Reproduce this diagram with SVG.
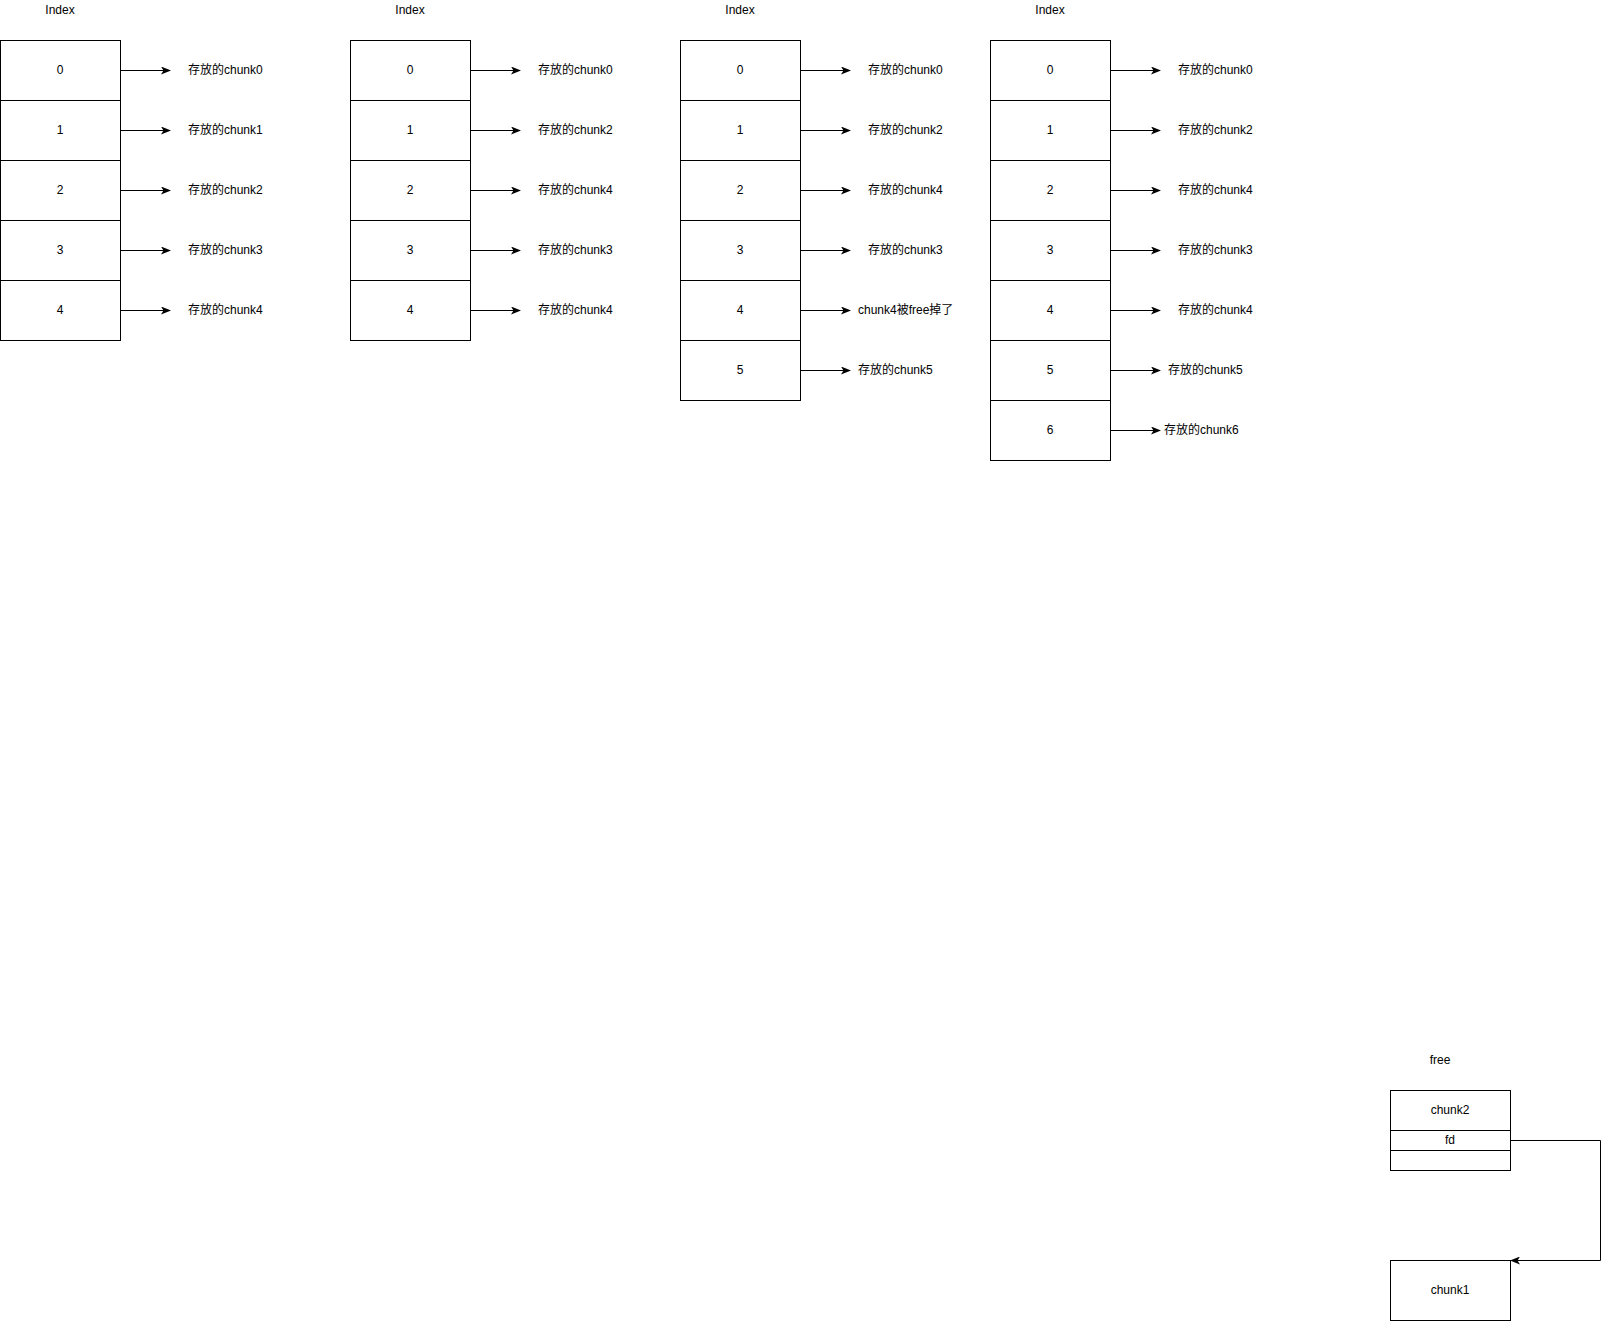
<svg xmlns="http://www.w3.org/2000/svg" width="1609" height="1321" viewBox="0 0 1609 1321">
<style>
.bg{fill:#ffffff}
.box{fill:#ffffff;stroke:#000000;stroke-width:1}
.t{font-family:"Liberation Sans","Noto Sans CJK SC",sans-serif;font-size:12px;fill:#000000;text-anchor:middle}
.tl{font-family:"Liberation Sans","Noto Sans CJK SC",sans-serif;font-size:12px;fill:#000000;text-anchor:start}
.edge{fill:none;stroke:#000000;stroke-width:1}
</style>
<defs>
<marker id="arr" viewBox="0 0 10 8" refX="9" refY="4" markerWidth="10" markerHeight="8" markerUnits="userSpaceOnUse" orient="auto">
<path d="M0,0 L10,4 L0,8 L2.5,4 z" fill="#000000"/>
</marker>
</defs>
<rect class="bg" x="0" y="0" width="1609" height="1321"/>

<g id="table1">
<text class="t" x="60" y="14">Index</text>
<rect class="box" x="0.5" y="40.5" width="120" height="60"/>
<rect class="box" x="0.5" y="100.5" width="120" height="60"/>
<rect class="box" x="0.5" y="160.5" width="120" height="60"/>
<rect class="box" x="0.5" y="220.5" width="120" height="60"/>
<rect class="box" x="0.5" y="280.5" width="120" height="60"/>
<text class="t" x="60" y="74">0</text>
<text class="t" x="60" y="134">1</text>
<text class="t" x="60" y="194">2</text>
<text class="t" x="60" y="254">3</text>
<text class="t" x="60" y="314">4</text>
<text class="tl" x="188" y="74">存放的chunk0</text>
<text class="tl" x="188" y="134">存放的chunk1</text>
<text class="tl" x="188" y="194">存放的chunk2</text>
<text class="tl" x="188" y="254">存放的chunk3</text>
<text class="tl" x="188" y="314">存放的chunk4</text>
</g>

<g id="table2">
<text class="t" x="410" y="14">Index</text>
<rect class="box" x="350.5" y="40.5" width="120" height="60"/>
<rect class="box" x="350.5" y="100.5" width="120" height="60"/>
<rect class="box" x="350.5" y="160.5" width="120" height="60"/>
<rect class="box" x="350.5" y="220.5" width="120" height="60"/>
<rect class="box" x="350.5" y="280.5" width="120" height="60"/>
<text class="t" x="410" y="74">0</text>
<text class="t" x="410" y="134">1</text>
<text class="t" x="410" y="194">2</text>
<text class="t" x="410" y="254">3</text>
<text class="t" x="410" y="314">4</text>
<text class="tl" x="538" y="74">存放的chunk0</text>
<text class="tl" x="538" y="134">存放的chunk2</text>
<text class="tl" x="538" y="194">存放的chunk4</text>
<text class="tl" x="538" y="254">存放的chunk3</text>
<text class="tl" x="538" y="314">存放的chunk4</text>
</g>

<g id="table3">
<text class="t" x="740" y="14">Index</text>
<rect class="box" x="680.5" y="40.5" width="120" height="60"/>
<rect class="box" x="680.5" y="100.5" width="120" height="60"/>
<rect class="box" x="680.5" y="160.5" width="120" height="60"/>
<rect class="box" x="680.5" y="220.5" width="120" height="60"/>
<rect class="box" x="680.5" y="280.5" width="120" height="60"/>
<rect class="box" x="680.5" y="340.5" width="120" height="60"/>
<text class="t" x="740" y="74">0</text>
<text class="t" x="740" y="134">1</text>
<text class="t" x="740" y="194">2</text>
<text class="t" x="740" y="254">3</text>
<text class="t" x="740" y="314">4</text>
<text class="t" x="740" y="374">5</text>
<text class="tl" x="868" y="74">存放的chunk0</text>
<text class="tl" x="868" y="134">存放的chunk2</text>
<text class="tl" x="868" y="194">存放的chunk4</text>
<text class="tl" x="868" y="254">存放的chunk3</text>
<text class="tl" x="858" y="314">chunk4被free掉了</text>
<text class="tl" x="858" y="374">存放的chunk5</text>
</g>

<g id="table4">
<text class="t" x="1050" y="14">Index</text>
<rect class="box" x="990.5" y="40.5" width="120" height="60"/>
<rect class="box" x="990.5" y="100.5" width="120" height="60"/>
<rect class="box" x="990.5" y="160.5" width="120" height="60"/>
<rect class="box" x="990.5" y="220.5" width="120" height="60"/>
<rect class="box" x="990.5" y="280.5" width="120" height="60"/>
<rect class="box" x="990.5" y="340.5" width="120" height="60"/>
<rect class="box" x="990.5" y="400.5" width="120" height="60"/>
<text class="t" x="1050" y="74">0</text>
<text class="t" x="1050" y="134">1</text>
<text class="t" x="1050" y="194">2</text>
<text class="t" x="1050" y="254">3</text>
<text class="t" x="1050" y="314">4</text>
<text class="t" x="1050" y="374">5</text>
<text class="t" x="1050" y="434">6</text>
<text class="tl" x="1178" y="74">存放的chunk0</text>
<text class="tl" x="1178" y="134">存放的chunk2</text>
<text class="tl" x="1178" y="194">存放的chunk4</text>
<text class="tl" x="1178" y="254">存放的chunk3</text>
<text class="tl" x="1178" y="314">存放的chunk4</text>
<text class="tl" x="1168" y="374">存放的chunk5</text>
<text class="tl" x="1164" y="434">存放的chunk6</text>
</g>

<g id="free-label">
<text class="t" x="1440" y="1064">free</text>
</g>

<g id="chunk2">
<rect class="box" x="1390.5" y="1090.5" width="120" height="40"/>
<rect class="box" x="1390.5" y="1130.5" width="120" height="20"/>
<rect class="box" x="1390.5" y="1150.5" width="120" height="20"/>
<text class="t" x="1450" y="1114">chunk2</text>
<text class="t" x="1450" y="1144">fd</text>
</g>

<g id="chunk1">
<rect class="box" x="1390.5" y="1260.5" width="120" height="60"/>
<text class="t" x="1450" y="1294">chunk1</text>
</g>

<g id="connectors">
<path class="edge" marker-end="url(#arr)" d="M120.5,70.5 H170"/>
<path class="edge" marker-end="url(#arr)" d="M120.5,130.5 H170"/>
<path class="edge" marker-end="url(#arr)" d="M120.5,190.5 H170"/>
<path class="edge" marker-end="url(#arr)" d="M120.5,250.5 H170"/>
<path class="edge" marker-end="url(#arr)" d="M120.5,310.5 H170"/>

<path class="edge" marker-end="url(#arr)" d="M470.5,70.5 H520"/>
<path class="edge" marker-end="url(#arr)" d="M470.5,130.5 H520"/>
<path class="edge" marker-end="url(#arr)" d="M470.5,190.5 H520"/>
<path class="edge" marker-end="url(#arr)" d="M470.5,250.5 H520"/>
<path class="edge" marker-end="url(#arr)" d="M470.5,310.5 H520"/>

<path class="edge" marker-end="url(#arr)" d="M800.5,70.5 H850"/>
<path class="edge" marker-end="url(#arr)" d="M800.5,130.5 H850"/>
<path class="edge" marker-end="url(#arr)" d="M800.5,190.5 H850"/>
<path class="edge" marker-end="url(#arr)" d="M800.5,250.5 H850"/>
<path class="edge" marker-end="url(#arr)" d="M800.5,310.5 H850"/>
<path class="edge" marker-end="url(#arr)" d="M800.5,370.5 H850"/>

<path class="edge" marker-end="url(#arr)" d="M1110.5,70.5 H1160"/>
<path class="edge" marker-end="url(#arr)" d="M1110.5,130.5 H1160"/>
<path class="edge" marker-end="url(#arr)" d="M1110.5,190.5 H1160"/>
<path class="edge" marker-end="url(#arr)" d="M1110.5,250.5 H1160"/>
<path class="edge" marker-end="url(#arr)" d="M1110.5,310.5 H1160"/>
<path class="edge" marker-end="url(#arr)" d="M1110.5,370.5 H1160"/>
<path class="edge" marker-end="url(#arr)" d="M1110.5,430.5 H1160"/>

<path class="edge" marker-end="url(#arr)" d="M1510.5,1140.5 H1600.5 V1260.5 H1511"/>
</g>
</svg>
